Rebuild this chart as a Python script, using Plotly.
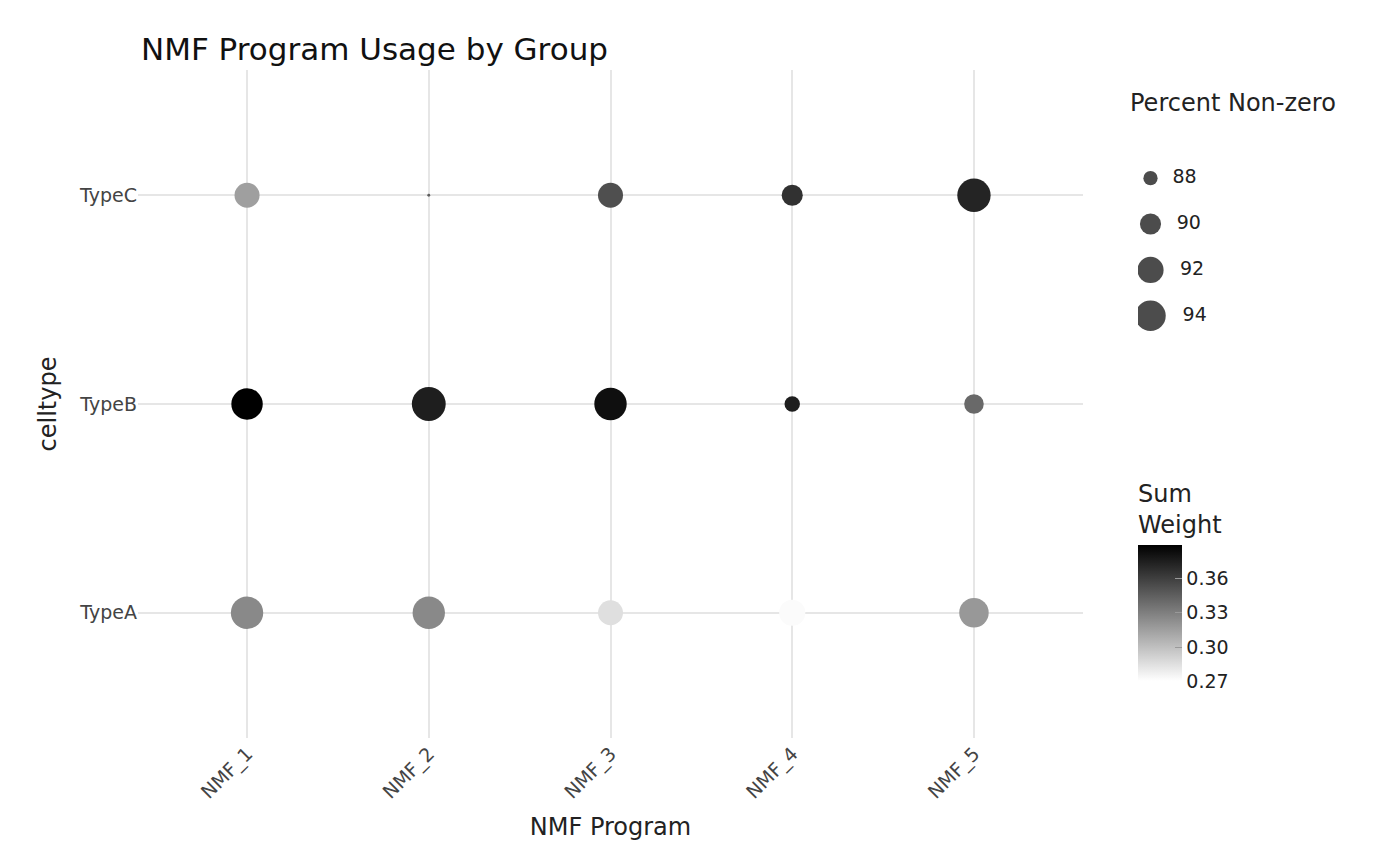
import plotly.graph_objects as go
import numpy as np

programs = ["NMF_1", "NMF_2", "NMF_3", "NMF_4", "NMF_5"]
celltypes = ["TypeA", "TypeB", "TypeC"]
pct = {
    "TypeA": [95.0, 95.0, 91.5, 92.0, 93.5],
    "TypeB": [94.5, 95.8, 95.0, 88.3, 89.5],
    "TypeC": [91.5, 86.4, 91.5, 90.0, 95.5],
}
weight = {
    "TypeA": [0.325, 0.325, 0.285, 0.272, 0.318],
    "TypeB": [0.389, 0.375, 0.382, 0.375, 0.340],
    "TypeC": [0.315, 0.345, 0.352, 0.366, 0.372],
}
legend_vals = [88, 90, 92, 94]

def size(p):
    return 11.0 * np.sqrt(max(p - 86.33, 0.02))

cmin, cmax = 0.27, 0.389
fig = go.Figure()
xs, ys, ps, ws = [], [], [], []
for ct in celltypes:
    for i, pr in enumerate(programs):
        xs.append(pr); ys.append(ct); ps.append(pct[ct][i]); ws.append(weight[ct][i])
fig.add_trace(go.Scatter(
    x=xs, y=ys, mode="markers", showlegend=False, opacity=1,
    marker=dict(size=[size(p) for p in ps], color=ws, cmin=cmin, cmax=cmax, opacity=1,
                colorscale=[[0, "#ffffff"], [1, "#000000"]], line=dict(width=0),
                colorbar=dict(title=dict(text="Sum<br>Weight", font=dict(size=24, color="#222")),
                              tickvals=[0.27, 0.30, 0.33, 0.36], ticktext=["0.27", "0.30", "0.33", "0.36"],
                              tickfont=dict(size=19, color="#222"), x=0.792, xanchor="left",
                              y=0.07, yanchor="bottom", len=0.33, lenmode="fraction",
                              thickness=44, outlinewidth=0,
                              ticks="inside", tickcolor="#999", ticklen=7)),
))
# size legend drawn on its own small axis
fig.add_trace(go.Scatter(
    x=[0] * len(legend_vals), y=legend_vals, xaxis="x2", yaxis="y2",
    mode="markers+text", text=[f"  {v}" for v in legend_vals], textposition="middle right",
    textfont=dict(size=19, color="#222"), showlegend=False, hoverinfo="skip",
    marker=dict(size=[size(v) for v in legend_vals], color="black", line=dict(width=0)),
))

fig.update_layout(
    width=1400, height=866, plot_bgcolor="white", paper_bgcolor="white",
    font=dict(family="DejaVu Sans", color="#222"),
    title=dict(text="NMF Program Usage by Group", x=0.095, y=0.965, font=dict(size=31, color="#111")),
    margin=dict(l=130, r=20, t=62, b=136),
    showlegend=False,
    xaxis=dict(domain=[0, 0.756], title=dict(text="NMF Program", font=dict(size=24)), categoryorder="array",
               categoryarray=programs, range=[-0.6, 4.6], showgrid=True, gridcolor="#e6e6e6",
               gridwidth=2, tickangle=-45, tickfont=dict(size=19, color="#444"), zeroline=False),
    yaxis=dict(title=dict(text="celltype", font=dict(size=24)), categoryorder="array",
               categoryarray=celltypes, range=[-0.6, 2.6], showgrid=True, gridcolor="#e6e6e6",
               gridwidth=2, tickfont=dict(size=19, color="#444"), zeroline=False),
    xaxis2=dict(domain=[0.8, 0.9], range=[-0.5, 4.5], visible=False, fixedrange=True),
    yaxis2=dict(domain=[0.599, 0.868], range=[94.96, 87.13], visible=False, anchor="x2", fixedrange=True),
    annotations=[dict(text="Percent Non-zero", xref="paper", yref="paper", x=0.792, y=0.95,
                      xanchor="left", yanchor="middle", showarrow=False, font=dict(size=24, color="#222"))],
)
fig.write_html("out.html")
